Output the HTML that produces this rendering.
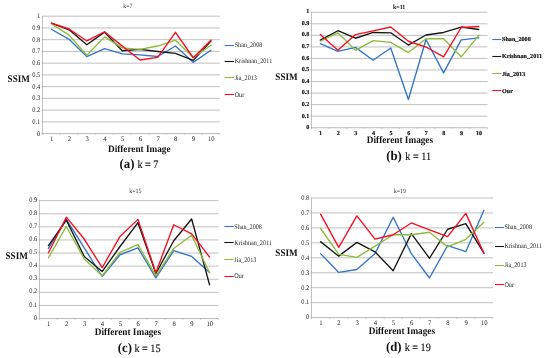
<!DOCTYPE html>
<html><head><meta charset="utf-8"><title>SSIM charts</title>
<style>
html,body{margin:0;padding:0;background:#fff;}
body{width:550px;height:358px;overflow:hidden;}
svg{display:block;}
svg text{text-rendering:geometricPrecision;font-family:"Liberation Serif","DejaVu Serif",serif;}
</style></head><body>
<svg width="550" height="358" viewBox="0 0 550 358">
<rect width="550" height="358" fill="#fff"/>
<g id="chart-a">
<line x1="41.50" x2="219.80" y1="121.86" y2="121.86" stroke="#bdbdbd" stroke-width="0.95"/>
<line x1="41.50" x2="219.80" y1="110.12" y2="110.12" stroke="#bdbdbd" stroke-width="0.95"/>
<line x1="41.50" x2="219.80" y1="98.38" y2="98.38" stroke="#bdbdbd" stroke-width="0.95"/>
<line x1="41.50" x2="219.80" y1="86.64" y2="86.64" stroke="#bdbdbd" stroke-width="0.95"/>
<line x1="41.50" x2="219.80" y1="74.90" y2="74.90" stroke="#bdbdbd" stroke-width="0.95"/>
<line x1="41.50" x2="219.80" y1="63.16" y2="63.16" stroke="#bdbdbd" stroke-width="0.95"/>
<line x1="41.50" x2="219.80" y1="51.42" y2="51.42" stroke="#bdbdbd" stroke-width="0.95"/>
<line x1="41.50" x2="219.80" y1="39.68" y2="39.68" stroke="#bdbdbd" stroke-width="0.95"/>
<line x1="41.50" x2="219.80" y1="27.94" y2="27.94" stroke="#bdbdbd" stroke-width="0.95"/>
<line x1="41.50" x2="219.80" y1="16.20" y2="16.20" stroke="#bdbdbd" stroke-width="0.95"/>
<line x1="41.50" x2="219.80" y1="133.60" y2="133.60" stroke="#a6a6a6" stroke-width="0.8"/>
<line x1="42.50" x2="42.50" y1="16.20" y2="134.60" stroke="#a6a6a6" stroke-width="0.7"/>
<line x1="42.50" x2="42.50" y1="133.60" y2="134.70" stroke="#a6a6a6" stroke-width="0.6"/>
<line x1="60.23" x2="60.23" y1="133.60" y2="134.70" stroke="#a6a6a6" stroke-width="0.6"/>
<line x1="77.96" x2="77.96" y1="133.60" y2="134.70" stroke="#a6a6a6" stroke-width="0.6"/>
<line x1="95.69" x2="95.69" y1="133.60" y2="134.70" stroke="#a6a6a6" stroke-width="0.6"/>
<line x1="113.42" x2="113.42" y1="133.60" y2="134.70" stroke="#a6a6a6" stroke-width="0.6"/>
<line x1="131.15" x2="131.15" y1="133.60" y2="134.70" stroke="#a6a6a6" stroke-width="0.6"/>
<line x1="148.88" x2="148.88" y1="133.60" y2="134.70" stroke="#a6a6a6" stroke-width="0.6"/>
<line x1="166.61" x2="166.61" y1="133.60" y2="134.70" stroke="#a6a6a6" stroke-width="0.6"/>
<line x1="184.34" x2="184.34" y1="133.60" y2="134.70" stroke="#a6a6a6" stroke-width="0.6"/>
<line x1="202.07" x2="202.07" y1="133.60" y2="134.70" stroke="#a6a6a6" stroke-width="0.6"/>
<line x1="219.80" x2="219.80" y1="133.60" y2="134.70" stroke="#a6a6a6" stroke-width="0.6"/>
<text transform="translate(40.30 135.55) scale(0.91 1)" font-size="7.0" text-anchor="end" fill="#222">0</text>
<text transform="translate(40.30 123.81) scale(0.91 1)" font-size="7.0" text-anchor="end" fill="#222">0.1</text>
<text transform="translate(40.30 112.07) scale(0.91 1)" font-size="7.0" text-anchor="end" fill="#222">0.2</text>
<text transform="translate(40.30 100.33) scale(0.91 1)" font-size="7.0" text-anchor="end" fill="#222">0.3</text>
<text transform="translate(40.30 88.59) scale(0.91 1)" font-size="7.0" text-anchor="end" fill="#222">0.4</text>
<text transform="translate(40.30 76.85) scale(0.91 1)" font-size="7.0" text-anchor="end" fill="#222">0.5</text>
<text transform="translate(40.30 65.11) scale(0.91 1)" font-size="7.0" text-anchor="end" fill="#222">0.6</text>
<text transform="translate(40.30 53.37) scale(0.91 1)" font-size="7.0" text-anchor="end" fill="#222">0.7</text>
<text transform="translate(40.30 41.63) scale(0.91 1)" font-size="7.0" text-anchor="end" fill="#222">0.8</text>
<text transform="translate(40.30 29.89) scale(0.91 1)" font-size="7.0" text-anchor="end" fill="#222">0.9</text>
<text transform="translate(40.30 18.15) scale(0.91 1)" font-size="7.0" text-anchor="end" fill="#222">1</text>
<text transform="translate(51.66 141.10) scale(0.95 1)" font-size="7.0" text-anchor="middle" fill="#222">1</text>
<text transform="translate(69.39 141.10) scale(0.95 1)" font-size="7.0" text-anchor="middle" fill="#222">2</text>
<text transform="translate(87.12 141.10) scale(0.95 1)" font-size="7.0" text-anchor="middle" fill="#222">3</text>
<text transform="translate(104.86 141.10) scale(0.95 1)" font-size="7.0" text-anchor="middle" fill="#222">4</text>
<text transform="translate(122.58 141.10) scale(0.95 1)" font-size="7.0" text-anchor="middle" fill="#222">5</text>
<text transform="translate(140.31 141.10) scale(0.95 1)" font-size="7.0" text-anchor="middle" fill="#222">6</text>
<text transform="translate(158.05 141.10) scale(0.95 1)" font-size="7.0" text-anchor="middle" fill="#222">7</text>
<text transform="translate(175.78 141.10) scale(0.95 1)" font-size="7.0" text-anchor="middle" fill="#222">8</text>
<text transform="translate(193.51 141.10) scale(0.95 1)" font-size="7.0" text-anchor="middle" fill="#222">9</text>
<text transform="translate(211.24 141.10) scale(0.95 1)" font-size="7.0" text-anchor="middle" fill="#222">10</text>
<polyline points="51.37,29.23 69.09,39.33 86.83,56.59 104.56,48.60 122.28,53.89 140.01,54.94 157.75,56.47 175.47,46.02 193.21,62.34 210.94,50.25" fill="none" stroke="#3475c9" stroke-width="1.35" stroke-linejoin="round" stroke-linecap="round"/>
<polyline points="51.37,23.24 69.09,29.82 86.83,44.73 104.56,32.17 122.28,50.72 140.01,49.42 157.75,51.54 175.47,53.30 193.21,60.34 210.94,40.97" fill="none" stroke="#161616" stroke-width="1.35" stroke-linejoin="round" stroke-linecap="round"/>
<polyline points="51.37,23.71 69.09,35.10 86.83,55.29 104.56,36.86 122.28,47.90 140.01,49.42 157.75,46.02 175.47,40.15 193.21,57.41 210.94,45.20" fill="none" stroke="#8dbb3c" stroke-width="1.35" stroke-linejoin="round" stroke-linecap="round"/>
<polyline points="51.37,23.13 69.09,29.00 86.83,40.97 104.56,31.81 122.28,46.14 140.01,59.99 157.75,57.41 175.47,32.28 193.21,57.76 210.94,40.15" fill="none" stroke="#f80d20" stroke-width="1.35" stroke-linejoin="round" stroke-linecap="round"/>
<line x1="224.6" x2="234" y1="45.5" y2="45.5" stroke="#3475c9" stroke-width="1.1"/>
<text transform="translate(234.70 47.40) scale(0.875 1)" font-size="7.0" text-anchor="start" fill="#222">Shan_2008</text>
<line x1="224.6" x2="234" y1="61.5" y2="61.5" stroke="#161616" stroke-width="1.1"/>
<text transform="translate(234.70 63.30) scale(0.875 1)" font-size="7.0" text-anchor="start" fill="#222">Krishnan_2011</text>
<line x1="224.6" x2="234" y1="77.5" y2="77.5" stroke="#8dbb3c" stroke-width="1.1"/>
<text transform="translate(234.70 79.80) scale(0.875 1)" font-size="7.0" text-anchor="start" fill="#222">Jia_2013</text>
<line x1="224.6" x2="234" y1="94.5" y2="94.5" stroke="#f80d20" stroke-width="1.1"/>
<text transform="translate(234.70 96.80) scale(0.875 1)" font-size="7.0" text-anchor="start" fill="#222">Our</text>
<text transform="translate(127.90 8.20) scale(0.9 1)" font-size="6.6" text-anchor="middle" fill="#333">k=7</text>
<text transform="translate(7.60 81.50) scale(0.905 1)" font-size="10.1" text-anchor="start" fill="#111" font-weight="bold">SSIM</text>
<text transform="translate(139.25 151.70) scale(0.945 1)" font-size="9.75" text-anchor="middle" fill="#111" font-weight="bold">Different Image</text>
<text transform="translate(119.60 168.20) scale(0.955 1)" font-size="13.4" text-anchor="start" fill="#111" font-weight="bold">(a)</text>
<text transform="translate(137.40 168.20) scale(0.9 1)" font-size="11.3" text-anchor="start" fill="#111" stroke="#111" stroke-width="0.15">k = 7</text>
</g>
<g id="chart-b">
<line x1="310.50" x2="487.60" y1="116.20" y2="116.20" stroke="#bdbdbd" stroke-width="0.95"/>
<line x1="310.50" x2="487.60" y1="104.65" y2="104.65" stroke="#bdbdbd" stroke-width="0.95"/>
<line x1="310.50" x2="487.60" y1="93.10" y2="93.10" stroke="#bdbdbd" stroke-width="0.95"/>
<line x1="310.50" x2="487.60" y1="81.55" y2="81.55" stroke="#bdbdbd" stroke-width="0.95"/>
<line x1="310.50" x2="487.60" y1="70.00" y2="70.00" stroke="#bdbdbd" stroke-width="0.95"/>
<line x1="310.50" x2="487.60" y1="58.45" y2="58.45" stroke="#bdbdbd" stroke-width="0.95"/>
<line x1="310.50" x2="487.60" y1="46.90" y2="46.90" stroke="#bdbdbd" stroke-width="0.95"/>
<line x1="310.50" x2="487.60" y1="35.35" y2="35.35" stroke="#bdbdbd" stroke-width="0.95"/>
<line x1="310.50" x2="487.60" y1="23.80" y2="23.80" stroke="#bdbdbd" stroke-width="0.95"/>
<line x1="310.50" x2="487.60" y1="12.25" y2="12.25" stroke="#bdbdbd" stroke-width="0.95"/>
<line x1="310.50" x2="487.60" y1="127.75" y2="127.75" stroke="#a6a6a6" stroke-width="0.8"/>
<line x1="311.50" x2="311.50" y1="12.25" y2="128.75" stroke="#a6a6a6" stroke-width="0.7"/>
<line x1="311.50" x2="311.50" y1="127.75" y2="128.85" stroke="#a6a6a6" stroke-width="0.6"/>
<line x1="329.11" x2="329.11" y1="127.75" y2="128.85" stroke="#a6a6a6" stroke-width="0.6"/>
<line x1="346.72" x2="346.72" y1="127.75" y2="128.85" stroke="#a6a6a6" stroke-width="0.6"/>
<line x1="364.33" x2="364.33" y1="127.75" y2="128.85" stroke="#a6a6a6" stroke-width="0.6"/>
<line x1="381.94" x2="381.94" y1="127.75" y2="128.85" stroke="#a6a6a6" stroke-width="0.6"/>
<line x1="399.55" x2="399.55" y1="127.75" y2="128.85" stroke="#a6a6a6" stroke-width="0.6"/>
<line x1="417.16" x2="417.16" y1="127.75" y2="128.85" stroke="#a6a6a6" stroke-width="0.6"/>
<line x1="434.77" x2="434.77" y1="127.75" y2="128.85" stroke="#a6a6a6" stroke-width="0.6"/>
<line x1="452.38" x2="452.38" y1="127.75" y2="128.85" stroke="#a6a6a6" stroke-width="0.6"/>
<line x1="469.99" x2="469.99" y1="127.75" y2="128.85" stroke="#a6a6a6" stroke-width="0.6"/>
<line x1="487.60" x2="487.60" y1="127.75" y2="128.85" stroke="#a6a6a6" stroke-width="0.6"/>
<text transform="translate(309.30 129.35) scale(1.0 1)" font-size="6.1" text-anchor="end" fill="#111" font-weight="bold" stroke="#111" stroke-width="0.18">0</text>
<text transform="translate(309.30 117.73) scale(1.0 1)" font-size="6.1" text-anchor="end" fill="#111" font-weight="bold" stroke="#111" stroke-width="0.18">0.1</text>
<text transform="translate(309.30 106.11) scale(1.0 1)" font-size="6.1" text-anchor="end" fill="#111" font-weight="bold" stroke="#111" stroke-width="0.18">0.2</text>
<text transform="translate(309.30 94.49) scale(1.0 1)" font-size="6.1" text-anchor="end" fill="#111" font-weight="bold" stroke="#111" stroke-width="0.18">0.3</text>
<text transform="translate(309.30 82.87) scale(1.0 1)" font-size="6.1" text-anchor="end" fill="#111" font-weight="bold" stroke="#111" stroke-width="0.18">0.4</text>
<text transform="translate(309.30 71.25) scale(1.0 1)" font-size="6.1" text-anchor="end" fill="#111" font-weight="bold" stroke="#111" stroke-width="0.18">0.5</text>
<text transform="translate(309.30 59.63) scale(1.0 1)" font-size="6.1" text-anchor="end" fill="#111" font-weight="bold" stroke="#111" stroke-width="0.18">0.6</text>
<text transform="translate(309.30 48.01) scale(1.0 1)" font-size="6.1" text-anchor="end" fill="#111" font-weight="bold" stroke="#111" stroke-width="0.18">0.7</text>
<text transform="translate(309.30 36.39) scale(1.0 1)" font-size="6.1" text-anchor="end" fill="#111" font-weight="bold" stroke="#111" stroke-width="0.18">0.8</text>
<text transform="translate(309.30 24.77) scale(1.0 1)" font-size="6.1" text-anchor="end" fill="#111" font-weight="bold" stroke="#111" stroke-width="0.18">0.9</text>
<text transform="translate(309.30 13.15) scale(1.0 1)" font-size="6.1" text-anchor="end" fill="#111" font-weight="bold" stroke="#111" stroke-width="0.18">1</text>
<text transform="translate(320.61 135.25) scale(1.0 1)" font-size="6.1" text-anchor="middle" fill="#111" font-weight="bold" stroke="#111" stroke-width="0.18">1</text>
<text transform="translate(338.22 135.25) scale(1.0 1)" font-size="6.1" text-anchor="middle" fill="#111" font-weight="bold" stroke="#111" stroke-width="0.18">2</text>
<text transform="translate(355.82 135.25) scale(1.0 1)" font-size="6.1" text-anchor="middle" fill="#111" font-weight="bold" stroke="#111" stroke-width="0.18">3</text>
<text transform="translate(373.44 135.25) scale(1.0 1)" font-size="6.1" text-anchor="middle" fill="#111" font-weight="bold" stroke="#111" stroke-width="0.18">4</text>
<text transform="translate(391.05 135.25) scale(1.0 1)" font-size="6.1" text-anchor="middle" fill="#111" font-weight="bold" stroke="#111" stroke-width="0.18">5</text>
<text transform="translate(408.66 135.25) scale(1.0 1)" font-size="6.1" text-anchor="middle" fill="#111" font-weight="bold" stroke="#111" stroke-width="0.18">6</text>
<text transform="translate(426.27 135.25) scale(1.0 1)" font-size="6.1" text-anchor="middle" fill="#111" font-weight="bold" stroke="#111" stroke-width="0.18">7</text>
<text transform="translate(443.88 135.25) scale(1.0 1)" font-size="6.1" text-anchor="middle" fill="#111" font-weight="bold" stroke="#111" stroke-width="0.18">8</text>
<text transform="translate(461.49 135.25) scale(1.0 1)" font-size="6.1" text-anchor="middle" fill="#111" font-weight="bold" stroke="#111" stroke-width="0.18">9</text>
<text transform="translate(479.10 135.25) scale(1.0 1)" font-size="6.1" text-anchor="middle" fill="#111" font-weight="bold" stroke="#111" stroke-width="0.18">10</text>
<polyline points="320.31,43.67 337.92,51.29 355.52,47.36 373.13,60.18 390.75,47.94 408.36,99.45 425.97,39.51 443.58,72.89 461.19,39.85 478.80,37.89" fill="none" stroke="#3475c9" stroke-width="1.35" stroke-linejoin="round" stroke-linecap="round"/>
<polyline points="320.31,40.09 337.92,30.73 355.52,38.24 373.13,32.46 390.75,32.81 408.36,45.05 425.97,35.00 443.58,32.46 461.19,27.03 478.80,29.46" fill="none" stroke="#161616" stroke-width="1.35" stroke-linejoin="round" stroke-linecap="round"/>
<polyline points="320.31,41.24 337.92,32.81 355.52,50.36 373.13,40.66 390.75,42.40 408.36,52.56 425.97,38.70 443.58,38.70 461.19,56.83 478.80,35.35" fill="none" stroke="#8dbb3c" stroke-width="1.35" stroke-linejoin="round" stroke-linecap="round"/>
<polyline points="320.31,34.54 337.92,50.36 355.52,34.54 373.13,30.85 390.75,27.03 408.36,41.24 425.97,47.02 443.58,56.83 461.19,27.50 478.80,26.46" fill="none" stroke="#f80d20" stroke-width="1.35" stroke-linejoin="round" stroke-linecap="round"/>
<line x1="492.3" x2="501.3" y1="39.5" y2="39.5" stroke="#3475c9" stroke-width="1.1"/>
<text transform="translate(502.00 41.20) scale(1.01 1)" font-size="6.1" text-anchor="start" fill="#111" font-weight="bold" stroke="#111" stroke-width="0.18">Shan_2008</text>
<line x1="492.3" x2="501.3" y1="56.5" y2="56.5" stroke="#161616" stroke-width="1.1"/>
<text transform="translate(502.00 58.40) scale(1.01 1)" font-size="6.1" text-anchor="start" fill="#111" font-weight="bold" stroke="#111" stroke-width="0.18">Krishnan_2011</text>
<line x1="492.3" x2="501.3" y1="73.5" y2="73.5" stroke="#8dbb3c" stroke-width="1.1"/>
<text transform="translate(502.00 75.90) scale(1.01 1)" font-size="6.1" text-anchor="start" fill="#111" font-weight="bold" stroke="#111" stroke-width="0.18">Jia_2013</text>
<line x1="492.3" x2="501.3" y1="90.5" y2="90.5" stroke="#f80d20" stroke-width="1.1"/>
<text transform="translate(502.00 93.10) scale(1.01 1)" font-size="6.1" text-anchor="start" fill="#111" font-weight="bold" stroke="#111" stroke-width="0.18">Our</text>
<text transform="translate(399.15 8.50) scale(0.9 1)" font-size="6.6" text-anchor="middle" fill="#111" font-weight="bold">k=11</text>
<text transform="translate(275.30 79.70) scale(0.905 1)" font-size="10.1" text-anchor="start" fill="#111" font-weight="bold">SSIM</text>
<text transform="translate(399.95 143.20) scale(0.923 1)" font-size="10" text-anchor="middle" fill="#111" font-weight="bold">Different Images</text>
<text transform="translate(386.20 159.60) scale(0.955 1)" font-size="13.4" text-anchor="start" fill="#111" font-weight="bold">(b)</text>
<text transform="translate(405.30 159.60) scale(0.9 1)" font-size="11.3" text-anchor="start" fill="#111" stroke="#111" stroke-width="0.15">k = 11</text>
</g>
<g id="chart-c">
<line x1="38.50" x2="218.50" y1="305.45" y2="305.45" stroke="#bdbdbd" stroke-width="0.95"/>
<line x1="38.50" x2="218.50" y1="292.35" y2="292.35" stroke="#bdbdbd" stroke-width="0.95"/>
<line x1="38.50" x2="218.50" y1="279.25" y2="279.25" stroke="#bdbdbd" stroke-width="0.95"/>
<line x1="38.50" x2="218.50" y1="266.15" y2="266.15" stroke="#bdbdbd" stroke-width="0.95"/>
<line x1="38.50" x2="218.50" y1="253.05" y2="253.05" stroke="#bdbdbd" stroke-width="0.95"/>
<line x1="38.50" x2="218.50" y1="239.95" y2="239.95" stroke="#bdbdbd" stroke-width="0.95"/>
<line x1="38.50" x2="218.50" y1="226.85" y2="226.85" stroke="#bdbdbd" stroke-width="0.95"/>
<line x1="38.50" x2="218.50" y1="213.75" y2="213.75" stroke="#bdbdbd" stroke-width="0.95"/>
<line x1="38.50" x2="218.50" y1="200.65" y2="200.65" stroke="#bdbdbd" stroke-width="0.95"/>
<line x1="38.50" x2="218.50" y1="318.55" y2="318.55" stroke="#a6a6a6" stroke-width="0.8"/>
<line x1="39.50" x2="39.50" y1="200.65" y2="319.55" stroke="#a6a6a6" stroke-width="0.7"/>
<line x1="39.50" x2="39.50" y1="318.55" y2="319.65" stroke="#a6a6a6" stroke-width="0.6"/>
<line x1="57.40" x2="57.40" y1="318.55" y2="319.65" stroke="#a6a6a6" stroke-width="0.6"/>
<line x1="75.30" x2="75.30" y1="318.55" y2="319.65" stroke="#a6a6a6" stroke-width="0.6"/>
<line x1="93.20" x2="93.20" y1="318.55" y2="319.65" stroke="#a6a6a6" stroke-width="0.6"/>
<line x1="111.10" x2="111.10" y1="318.55" y2="319.65" stroke="#a6a6a6" stroke-width="0.6"/>
<line x1="129.00" x2="129.00" y1="318.55" y2="319.65" stroke="#a6a6a6" stroke-width="0.6"/>
<line x1="146.90" x2="146.90" y1="318.55" y2="319.65" stroke="#a6a6a6" stroke-width="0.6"/>
<line x1="164.80" x2="164.80" y1="318.55" y2="319.65" stroke="#a6a6a6" stroke-width="0.6"/>
<line x1="182.70" x2="182.70" y1="318.55" y2="319.65" stroke="#a6a6a6" stroke-width="0.6"/>
<line x1="200.60" x2="200.60" y1="318.55" y2="319.65" stroke="#a6a6a6" stroke-width="0.6"/>
<line x1="218.50" x2="218.50" y1="318.55" y2="319.65" stroke="#a6a6a6" stroke-width="0.6"/>
<text transform="translate(37.30 319.60) scale(0.91 1)" font-size="7.0" text-anchor="end" fill="#222">0</text>
<text transform="translate(37.30 306.50) scale(0.91 1)" font-size="7.0" text-anchor="end" fill="#222">0.1</text>
<text transform="translate(37.30 293.40) scale(0.91 1)" font-size="7.0" text-anchor="end" fill="#222">0.2</text>
<text transform="translate(37.30 280.30) scale(0.91 1)" font-size="7.0" text-anchor="end" fill="#222">0.3</text>
<text transform="translate(37.30 267.20) scale(0.91 1)" font-size="7.0" text-anchor="end" fill="#222">0.4</text>
<text transform="translate(37.30 254.10) scale(0.91 1)" font-size="7.0" text-anchor="end" fill="#222">0.5</text>
<text transform="translate(37.30 241.00) scale(0.91 1)" font-size="7.0" text-anchor="end" fill="#222">0.6</text>
<text transform="translate(37.30 227.90) scale(0.91 1)" font-size="7.0" text-anchor="end" fill="#222">0.7</text>
<text transform="translate(37.30 214.80) scale(0.91 1)" font-size="7.0" text-anchor="end" fill="#222">0.8</text>
<text transform="translate(37.30 201.70) scale(0.91 1)" font-size="7.0" text-anchor="end" fill="#222">0.9</text>
<text transform="translate(48.75 326.05) scale(0.95 1)" font-size="7.0" text-anchor="middle" fill="#222">1</text>
<text transform="translate(66.65 326.05) scale(0.95 1)" font-size="7.0" text-anchor="middle" fill="#222">2</text>
<text transform="translate(84.55 326.05) scale(0.95 1)" font-size="7.0" text-anchor="middle" fill="#222">3</text>
<text transform="translate(102.45 326.05) scale(0.95 1)" font-size="7.0" text-anchor="middle" fill="#222">4</text>
<text transform="translate(120.35 326.05) scale(0.95 1)" font-size="7.0" text-anchor="middle" fill="#222">5</text>
<text transform="translate(138.25 326.05) scale(0.95 1)" font-size="7.0" text-anchor="middle" fill="#222">6</text>
<text transform="translate(156.15 326.05) scale(0.95 1)" font-size="7.0" text-anchor="middle" fill="#222">7</text>
<text transform="translate(174.05 326.05) scale(0.95 1)" font-size="7.0" text-anchor="middle" fill="#222">8</text>
<text transform="translate(191.95 326.05) scale(0.95 1)" font-size="7.0" text-anchor="middle" fill="#222">9</text>
<text transform="translate(209.85 326.05) scale(0.95 1)" font-size="7.0" text-anchor="middle" fill="#222">10</text>
<polyline points="48.45,248.47 66.35,219.38 84.25,247.81 102.15,276.50 120.05,254.75 137.95,247.81 155.85,277.81 173.75,250.69 191.65,256.46 209.55,272.44" fill="none" stroke="#3475c9" stroke-width="1.35" stroke-linejoin="round" stroke-linecap="round"/>
<polyline points="48.45,245.71 66.35,220.17 84.25,256.46 102.15,271.52 120.05,246.50 137.95,222.66 155.85,273.49 173.75,240.74 191.65,218.99 209.55,284.75" fill="none" stroke="#161616" stroke-width="1.35" stroke-linejoin="round" stroke-linecap="round"/>
<polyline points="48.45,257.77 66.35,226.46 84.25,258.94 102.15,275.84 120.05,252.26 137.95,244.54 155.85,275.84 173.75,248.47 191.65,235.23 209.55,272.83" fill="none" stroke="#8dbb3c" stroke-width="1.35" stroke-linejoin="round" stroke-linecap="round"/>
<polyline points="48.45,252.79 66.35,217.16 84.25,239.03 102.15,267.72 120.05,236.41 137.95,219.38 155.85,272.83 173.75,224.75 191.65,233.92 209.55,256.98" fill="none" stroke="#f80d20" stroke-width="1.35" stroke-linejoin="round" stroke-linecap="round"/>
<line x1="224.3" x2="233.7" y1="226.5" y2="226.5" stroke="#3475c9" stroke-width="1.1"/>
<text transform="translate(234.30 228.50) scale(0.875 1)" font-size="7.0" text-anchor="start" fill="#222">Shan_2008</text>
<line x1="224.3" x2="233.7" y1="242.5" y2="242.5" stroke="#161616" stroke-width="1.1"/>
<text transform="translate(234.30 244.60) scale(0.875 1)" font-size="7.0" text-anchor="start" fill="#222">Krishnan_2011</text>
<line x1="224.3" x2="233.7" y1="259.5" y2="259.5" stroke="#8dbb3c" stroke-width="1.1"/>
<text transform="translate(234.30 261.60) scale(0.875 1)" font-size="7.0" text-anchor="start" fill="#222">Jia_2013</text>
<line x1="224.3" x2="233.7" y1="276.5" y2="276.5" stroke="#f80d20" stroke-width="1.1"/>
<text transform="translate(234.30 278.30) scale(0.875 1)" font-size="7.0" text-anchor="start" fill="#222">Our</text>
<text transform="translate(135.40 193.30) scale(0.9 1)" font-size="6.6" text-anchor="middle" fill="#333">k=15</text>
<text transform="translate(5.50 259.30) scale(0.905 1)" font-size="10.1" text-anchor="start" fill="#111" font-weight="bold">SSIM</text>
<text transform="translate(127.95 334.70) scale(0.923 1)" font-size="10" text-anchor="middle" fill="#111" font-weight="bold">Different Images</text>
<text transform="translate(117.70 351.60) scale(0.955 1)" font-size="13.4" text-anchor="start" fill="#111" font-weight="bold">(c)</text>
<text transform="translate(134.40 351.60) scale(0.9 1)" font-size="11.3" text-anchor="start" fill="#111" stroke="#111" stroke-width="0.15">k = 15</text>
</g>
<g id="chart-d">
<line x1="310.50" x2="493.00" y1="302.65" y2="302.65" stroke="#bdbdbd" stroke-width="0.95"/>
<line x1="310.50" x2="493.00" y1="287.70" y2="287.70" stroke="#bdbdbd" stroke-width="0.95"/>
<line x1="310.50" x2="493.00" y1="272.75" y2="272.75" stroke="#bdbdbd" stroke-width="0.95"/>
<line x1="310.50" x2="493.00" y1="257.80" y2="257.80" stroke="#bdbdbd" stroke-width="0.95"/>
<line x1="310.50" x2="493.00" y1="242.85" y2="242.85" stroke="#bdbdbd" stroke-width="0.95"/>
<line x1="310.50" x2="493.00" y1="227.90" y2="227.90" stroke="#bdbdbd" stroke-width="0.95"/>
<line x1="310.50" x2="493.00" y1="212.95" y2="212.95" stroke="#bdbdbd" stroke-width="0.95"/>
<line x1="310.50" x2="493.00" y1="198.00" y2="198.00" stroke="#bdbdbd" stroke-width="0.95"/>
<line x1="310.50" x2="493.00" y1="317.60" y2="317.60" stroke="#a6a6a6" stroke-width="0.8"/>
<line x1="311.50" x2="311.50" y1="198.00" y2="318.60" stroke="#a6a6a6" stroke-width="0.7"/>
<line x1="311.50" x2="311.50" y1="317.60" y2="318.70" stroke="#a6a6a6" stroke-width="0.6"/>
<line x1="329.65" x2="329.65" y1="317.60" y2="318.70" stroke="#a6a6a6" stroke-width="0.6"/>
<line x1="347.80" x2="347.80" y1="317.60" y2="318.70" stroke="#a6a6a6" stroke-width="0.6"/>
<line x1="365.95" x2="365.95" y1="317.60" y2="318.70" stroke="#a6a6a6" stroke-width="0.6"/>
<line x1="384.10" x2="384.10" y1="317.60" y2="318.70" stroke="#a6a6a6" stroke-width="0.6"/>
<line x1="402.25" x2="402.25" y1="317.60" y2="318.70" stroke="#a6a6a6" stroke-width="0.6"/>
<line x1="420.40" x2="420.40" y1="317.60" y2="318.70" stroke="#a6a6a6" stroke-width="0.6"/>
<line x1="438.55" x2="438.55" y1="317.60" y2="318.70" stroke="#a6a6a6" stroke-width="0.6"/>
<line x1="456.70" x2="456.70" y1="317.60" y2="318.70" stroke="#a6a6a6" stroke-width="0.6"/>
<line x1="474.85" x2="474.85" y1="317.60" y2="318.70" stroke="#a6a6a6" stroke-width="0.6"/>
<line x1="493.00" x2="493.00" y1="317.60" y2="318.70" stroke="#a6a6a6" stroke-width="0.6"/>
<text transform="translate(309.30 319.40) scale(0.91 1)" font-size="7.0" text-anchor="end" fill="#222">0</text>
<text transform="translate(309.30 304.45) scale(0.91 1)" font-size="7.0" text-anchor="end" fill="#222">0.1</text>
<text transform="translate(309.30 289.50) scale(0.91 1)" font-size="7.0" text-anchor="end" fill="#222">0.2</text>
<text transform="translate(309.30 274.55) scale(0.91 1)" font-size="7.0" text-anchor="end" fill="#222">0.3</text>
<text transform="translate(309.30 259.60) scale(0.91 1)" font-size="7.0" text-anchor="end" fill="#222">0.4</text>
<text transform="translate(309.30 244.65) scale(0.91 1)" font-size="7.0" text-anchor="end" fill="#222">0.5</text>
<text transform="translate(309.30 229.70) scale(0.91 1)" font-size="7.0" text-anchor="end" fill="#222">0.6</text>
<text transform="translate(309.30 214.75) scale(0.91 1)" font-size="7.0" text-anchor="end" fill="#222">0.7</text>
<text transform="translate(309.30 199.80) scale(0.91 1)" font-size="7.0" text-anchor="end" fill="#222">0.8</text>
<text transform="translate(320.88 325.10) scale(0.95 1)" font-size="7.0" text-anchor="middle" fill="#222">1</text>
<text transform="translate(339.03 325.10) scale(0.95 1)" font-size="7.0" text-anchor="middle" fill="#222">2</text>
<text transform="translate(357.18 325.10) scale(0.95 1)" font-size="7.0" text-anchor="middle" fill="#222">3</text>
<text transform="translate(375.32 325.10) scale(0.95 1)" font-size="7.0" text-anchor="middle" fill="#222">4</text>
<text transform="translate(393.48 325.10) scale(0.95 1)" font-size="7.0" text-anchor="middle" fill="#222">5</text>
<text transform="translate(411.62 325.10) scale(0.95 1)" font-size="7.0" text-anchor="middle" fill="#222">6</text>
<text transform="translate(429.78 325.10) scale(0.95 1)" font-size="7.0" text-anchor="middle" fill="#222">7</text>
<text transform="translate(447.93 325.10) scale(0.95 1)" font-size="7.0" text-anchor="middle" fill="#222">8</text>
<text transform="translate(466.07 325.10) scale(0.95 1)" font-size="7.0" text-anchor="middle" fill="#222">9</text>
<text transform="translate(484.22 325.10) scale(0.95 1)" font-size="7.0" text-anchor="middle" fill="#222">10</text>
<polyline points="320.57,253.61 338.73,272.45 356.88,269.46 375.02,253.61 393.18,217.29 411.32,253.61 429.48,277.98 447.62,245.54 465.77,251.67 483.92,210.26" fill="none" stroke="#3475c9" stroke-width="1.35" stroke-linejoin="round" stroke-linecap="round"/>
<polyline points="320.57,241.65 338.73,256.16 356.88,242.40 375.02,251.82 393.18,270.81 411.32,233.58 429.48,258.25 447.62,229.25 465.77,223.56 483.92,253.17" fill="none" stroke="#161616" stroke-width="1.35" stroke-linejoin="round" stroke-linecap="round"/>
<polyline points="320.57,228.50 338.73,254.36 356.88,257.35 375.02,246.14 393.18,234.78 411.32,234.78 429.48,232.24 447.62,246.89 465.77,239.26 483.92,222.22" fill="none" stroke="#8dbb3c" stroke-width="1.35" stroke-linejoin="round" stroke-linecap="round"/>
<polyline points="320.57,214.15 338.73,247.34 356.88,215.94 375.02,239.11 393.18,234.78 411.32,222.97 429.48,229.84 447.62,236.57 465.77,213.40 483.92,253.17" fill="none" stroke="#f80d20" stroke-width="1.35" stroke-linejoin="round" stroke-linecap="round"/>
<line x1="495" x2="504" y1="227.5" y2="227.5" stroke="#3475c9" stroke-width="1.1"/>
<text transform="translate(504.40 229.30) scale(0.875 1)" font-size="7.0" text-anchor="start" fill="#222">Shan_2008</text>
<line x1="495" x2="504" y1="246.5" y2="246.5" stroke="#161616" stroke-width="1.1"/>
<text transform="translate(504.40 248.30) scale(0.875 1)" font-size="7.0" text-anchor="start" fill="#222">Krishnan_2011</text>
<line x1="495" x2="504" y1="265.5" y2="265.5" stroke="#8dbb3c" stroke-width="1.1"/>
<text transform="translate(504.40 267.30) scale(0.875 1)" font-size="7.0" text-anchor="start" fill="#222">Jia_2013</text>
<line x1="495" x2="504" y1="284.5" y2="284.5" stroke="#f80d20" stroke-width="1.1"/>
<text transform="translate(504.40 286.60) scale(0.875 1)" font-size="7.0" text-anchor="start" fill="#222">Our</text>
<text transform="translate(399.90 193.10) scale(0.9 1)" font-size="6.6" text-anchor="middle" fill="#333">k=19</text>
<text transform="translate(275.30 255.90) scale(0.905 1)" font-size="10.1" text-anchor="start" fill="#111" font-weight="bold">SSIM</text>
<text transform="translate(401.90 333.60) scale(0.923 1)" font-size="10" text-anchor="middle" fill="#111" font-weight="bold">Different Images</text>
<text transform="translate(385.90 350.60) scale(0.955 1)" font-size="13.4" text-anchor="start" fill="#111" font-weight="bold">(d)</text>
<text transform="translate(404.70 350.60) scale(0.9 1)" font-size="11.3" text-anchor="start" fill="#111" stroke="#111" stroke-width="0.15">k = 19</text>
</g>
</svg>
</body></html>
